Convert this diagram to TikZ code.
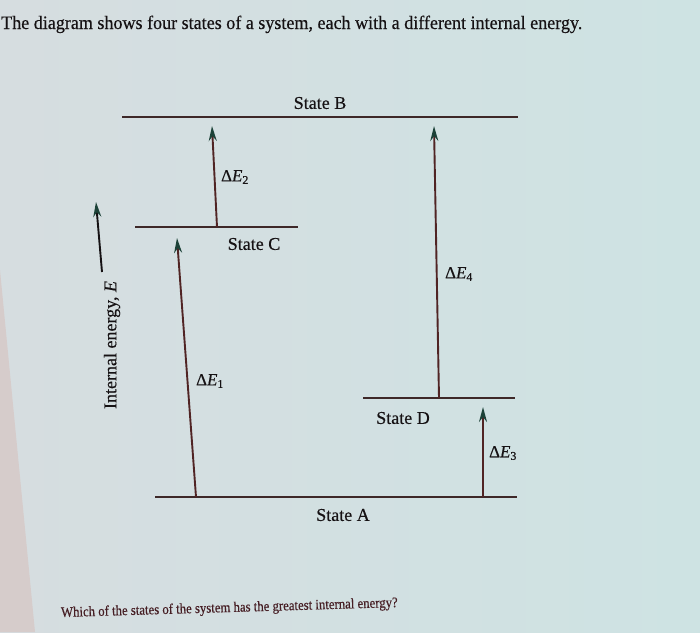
\documentclass[tikz,border=0pt]{standalone}
\usepackage{fontspec}
\usepackage{graphicx}
\setmainfont{Liberation Serif}[FakeBold=0.4]
\usetikzlibrary{arrows.meta}
\definecolor{bgL}{RGB}{214,221,224}
\definecolor{bgR}{RGB}{206,227,227}
\definecolor{bezel}{RGB}{214,204,203}
\definecolor{lvl}{RGB}{62,40,40}
\definecolor{shaft}{RGB}{80,36,36}
\definecolor{tipc}{RGB}{28,66,56}
\definecolor{ink}{RGB}{22,18,20}
\definecolor{qink}{RGB}{70,30,36}
\tikzset{
  level/.style={draw=lvl, line width=2.4pt},
  uparrow/.style={draw=shaft, line width=1.9pt, -{Stealth[length=15pt,width=8pt,fill=tipc,color=tipc]}},
  statelabel/.style={text=ink, inner sep=0pt, font=\fontsize{18}{20}\selectfont},
  delabel/.style={text=ink, inner sep=0pt, font=\fontsize{17}{19}\selectfont},
}
\newcommand{\dE}[1]{Δ\textit{E}\textsubscript{#1}}
\begin{document}
\begin{tikzpicture}[x=1pt,y=-1pt]
\useasboundingbox (0,0) rectangle (700,632);
\fill[left color=bgL, right color=bgR] (0,0) rectangle (700,632);
\fill[bezel] (0,270) -- (35,632) -- (0,632) -- cycle;

% title
\node[anchor=base west, inner sep=0pt, text=ink, font=\fontsize{19}{22}\selectfont] (title) at (1,29)
  {\scalebox{0.95}[1]{The diagram shows four states of a system, each with a different internal energy.}};

% level lines
\coordinate (B1) at (122,117); \coordinate (B2) at (518,117);
\coordinate (C1) at (135,227); \coordinate (C2) at (298,227);
\coordinate (D1) at (363,398); \coordinate (D2) at (515,398);
\coordinate (A1) at (155,497); \coordinate (A2) at (517,497);
\draw[level] (B1) -- (B2);
\draw[level] (C1) -- (C2);
\draw[level] (D1) -- (D2);
\draw[level] (A1) -- (A2);

% state labels
\node[statelabel] (lB) at (320,103) {State B};
\node[statelabel] (lC) at (254,244) {State C};
\node[statelabel] (lD) at (403,418) {State D};
\node[statelabel] (lA) at (343,515) {State A};

% arrows
\coordinate (e2s) at (217,227); \coordinate (e2e) at (212,126);
\coordinate (e1s) at (196,497); \coordinate (e1e) at (177,238);
\coordinate (e4s) at (439,398); \coordinate (e4e) at (434,126);
\coordinate (e3s) at (483,497); \coordinate (e3e) at (483,407);
\draw[uparrow] (e2s) -- (e2e);
\draw[uparrow] (e1s) -- (e1e);
\draw[uparrow] (e4s) -- (e4e);
\draw[uparrow] (e3s) -- (e3e);

\node[delabel] (d2) at (235,177) {\dE{2}};
\node[delabel] (d1) at (210,381) {\dE{1}};
\node[delabel] (d4) at (459,274) {\dE{4}};
\node[delabel] (d3) at (503,453) {\dE{3}};

% axis
\coordinate (ax1) at (102,272); \coordinate (ax2) at (96,202);
\draw[uparrow, draw=ink] (ax1) -- (ax2);
\node[rotate=90, text=ink, inner sep=0pt, font=\fontsize{18}{20}\selectfont] (axl) at (112,345) {Internal energy, \textit{E}};

% question
\node[anchor=base west, rotate=1.7, inner sep=0pt, text=qink, font=\fontsize{14.5}{17}\selectfont] (q) at (61,617)
  {\scalebox{0.88}[1]{Which of the states of the system has the greatest internal energy?}};
\end{tikzpicture}
\end{document}
